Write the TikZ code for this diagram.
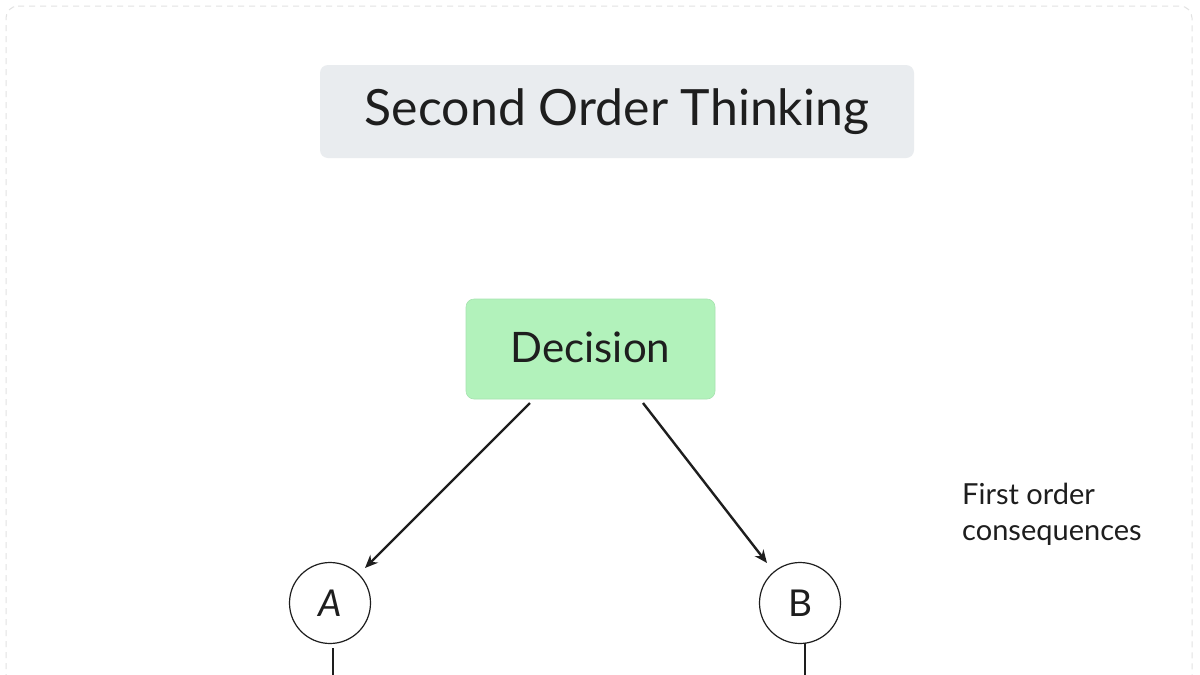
\documentclass[tikz,border=0pt]{standalone}
\usepackage{fontspec}
\setmainfont{Lato}
\usetikzlibrary{arrows.meta}
\definecolor{titlegray}{HTML}{E9ECEF}
\definecolor{decgreen}{HTML}{B2F2BB}
\definecolor{framegray}{HTML}{E2E2E2}
\definecolor{ink}{HTML}{1E1E1E}
\tikzset{
  boxstyle/.style={rounded corners=8pt, inner sep=0pt, text=ink},
  circ/.style={circle, draw=ink, line width=1.2pt, minimum size=81pt, inner sep=0pt, font=\fontsize{37}{40}\selectfont, text=ink},
  arr/.style={draw=ink, line width=2.4pt, -{Stealth[length=13pt,width=11pt]}},
  stem/.style={draw=ink, line width=1.8pt}
}
\begin{document}
\begin{tikzpicture}[x=1pt,y=-1pt]
\useasboundingbox (0,0) rectangle (1200,675);
\fill[white] (0,0) rectangle (1200,675);
\draw[framegray, line width=1pt, dash pattern=on 6pt off 5pt, rounded corners=12pt] (6,6) -- (1192,6) -- (1192,700) -- (6,700) -- cycle;
\node[boxstyle, fill=titlegray, minimum width=594pt, minimum height=93pt, font=\fontsize{50}{54}\selectfont] (title) at (617,111.5) {Second Order Thinking};
\node[boxstyle, fill=decgreen, draw=decgreen!80!black!30!decgreen, line width=0.6pt, minimum width=249pt, minimum height=100pt, font=\fontsize{42}{46}\selectfont] (dec) at (590.5,349) {\raisebox{4pt}{Decision}};
\node[circ] (A) at (330,603) {\itshape A};
\node[circ] (B) at (800,603) {B};
\coordinate (a1) at (530,403);
\coordinate (a2) at (365,568);
\coordinate (b1) at (643,403);
\coordinate (b2) at (767,563);
\draw[arr] (a1) -- (a2);
\draw[arr] (b1) -- (b2);
\coordinate (Aend) at (333,675);
\coordinate (Bend) at (805,675);
\draw[stem] (333,648) -- (Aend);
\draw[stem] (805,643) -- (Bend);
\node[anchor=north west, align=left, inner sep=0pt, text=ink, font=\fontsize{29}{36}\selectfont] (note) at (962,483) {First order\\consequences};
\end{tikzpicture}
\end{document}
